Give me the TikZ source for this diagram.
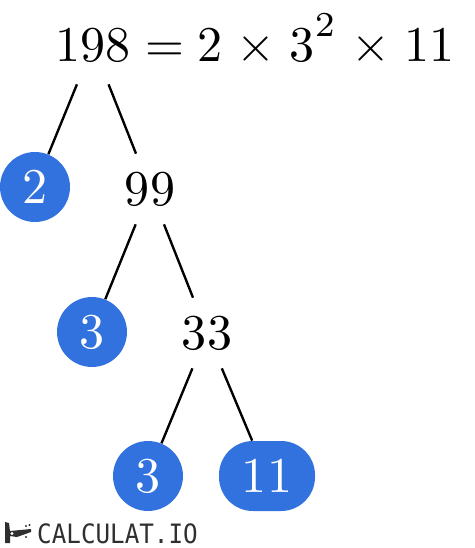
\documentclass[tikz,border=0pt]{standalone}
\usepackage{graphicx}
\usepackage{fontspec}
\newfontfamily\logofont{DejaVu Sans Mono}
\usetikzlibrary{positioning}
\definecolor{factorblue}{HTML}{3272DE}
\definecolor{logogray}{HTML}{2F2F2F}
\newcommand{\bignum}[1]{\scalebox{2.85}{$\medmuskip=5mu #1$}}
\tikzset{
    num/.style={inner sep=0pt, minimum height=70*0.02cm},
    prime/.style={num, circle, fill=factorblue, text=white, minimum size=70*0.02cm},
    primewide/.style={num, rounded corners=34*0.02cm, fill=factorblue, text=white, minimum width=96*0.02cm},
    branch/.style={line width=1.35pt}
}
\begin{document}
\begin{tikzpicture}[x=0.02cm,y=-0.02cm]
    \useasboundingbox (0,0) rectangle (474,548);
    % Draw the equation on top
    \node[num, minimum height=78*0.02cm] (n198) at (93,45) {\bignum{198}};
    \node[num, anchor=base west] (product) at (n198.base east) {\bignum{{}= 2\times 3^{\raisebox{1.2pt}{$\scriptstyle 2$}}\times 11}};
    % Draw the factor nodes
    \node[prime] (p2) at (35,187) {\bignum{2}};
    \node[num] (n99) at (150,189) {\bignum{99}};
    \node[prime] (p3a) at (92,332) {\bignum{3}};
    \node[num] (n33) at (207,333) {\bignum{33}};
    \node[prime] (p3b) at (148,476) {\bignum{3}};
    \node[primewide] (p11) at (267,476) {\bignum{11}};
    % Draw the branches
    \draw[branch] (n198) -- (p2);
    \draw[branch] (n198) -- (n99);
    \draw[branch] (n99) -- (p3a);
    \draw[branch] (n99) -- (n33);
    \draw[branch] (n33) -- (p3b);
    \draw[branch] (n33) -- (p11);
    % Draw the logo
    \fill[logogray] (5,522) -- (9,523) -- (10,531) -- (31,529) -- (31,532) -- (17,537) -- (10,536) -- (10,543) -- (5,543) -- cycle;
    \fill[white] (12,533.5) circle (1.6);
    \fill[logogray] (26,526) circle (1.1);
    \fill[logogray] (29.5,525) circle (1.1);
    \fill[logogray] (26,537) circle (1.1);
    \node[font=\logofont\fontsize{13.8}{16}\selectfont, text=logogray, inner sep=0pt] (logotext) at (117.5,533.5) {\scalebox{1}[1.1]{CALCULAT.IO}};
\end{tikzpicture}
\end{document}
